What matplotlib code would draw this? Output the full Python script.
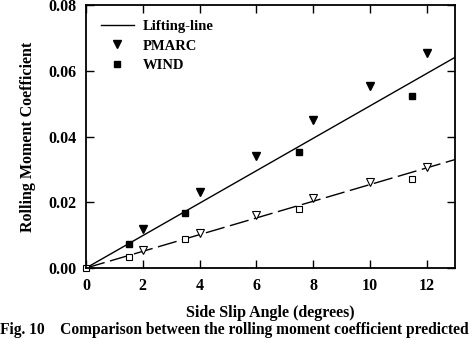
import numpy as np
import matplotlib.pyplot as plt

plt.rcParams['font.family'] = ['Liberation Serif', 'DejaVu Serif']

# lifting-line theory lines (end values at 13 deg)
line_x = [0, 13]
lifting_line = [0, 0.0641]
lifting_line2 = [0, 0.0330]

# filled symbols
pmarc_x = [2, 4, 6, 8, 10, 12]
pmarc_y = [0.0119, 0.0231, 0.0341, 0.0450, 0.0554, 0.0654]
wind_x = [1.5, 3.5, 7.5, 11.5]
wind_y = [0.0073, 0.0167, 0.0353, 0.0523]

# open symbols
pmarc2_x = [2, 4, 6, 8, 10, 12]
pmarc2_y = [0.0055, 0.0108, 0.0162, 0.0212, 0.0262, 0.0306]
wind2_x = [0, 1.5, 3.5, 7.5, 11.5]
wind2_y = [0.0, 0.0035, 0.0088, 0.0180, 0.0271]

xticks = [0, 2, 4, 6, 8, 10, 12]
yticks = [0.00, 0.02, 0.04, 0.06, 0.08]

fig = plt.figure(figsize=(4.74, 3.38), dpi=100)
ax = fig.add_axes([0.1814, 0.207, 0.7786, 0.778])

ax.plot(line_x, lifting_line, color='black', lw=1.0, label='Lifting-line')
ax.plot(line_x, lifting_line2, color='black', lw=1.0, dashes=(14, 4))
ax.plot(pmarc_x, pmarc_y, 'v', color='black', ms=5.5, ls='none', label='PMARC')
ax.plot(wind_x, wind_y, 's', color='black', ms=4.3, ls='none', label='WIND')
ax.plot(pmarc2_x, pmarc2_y, 'v', mfc='white', mec='black', mew=0.8, ms=5.5, ls='none')
ax.plot(wind2_x, wind2_y, 's', mfc='white', mec='black', mew=0.8, ms=4.8, ls='none', clip_on=False)

ax.set_xlim(0, 13)
ax.set_ylim(0, 0.08)
ax.set_xticks(xticks)
ax.set_yticks(yticks)
ax.set_yticklabels(['%.2f' % v for v in yticks])
ax.tick_params(direction='in', top=True, right=True, length=6, width=1,
               labelsize=11.5, pad=7)
for lab in ax.get_xticklabels() + ax.get_yticklabels():
    lab.set_fontweight('bold')
for s in ax.spines.values():
    s.set_linewidth(1.3)

ax.set_xlabel('Side Slip Angle (degrees)', fontsize=11.5, fontweight='bold', labelpad=8)
ax.set_ylabel('Rolling Moment Coefficient', fontsize=11.5, fontweight='bold', labelpad=9)

leg = ax.legend(loc='upper left', bbox_to_anchor=(0.04, 0.945), frameon=False,
                fontsize=10.5, handlelength=2.27, handletextpad=0.62,
                labelspacing=0.45, borderpad=0, borderaxespad=0)
for t in leg.get_texts():
    t.set_fontweight('bold')

fig.text(0.0, 0.0, 'Fig. 10    Comparison between the rolling moment coefficient predicted',
         fontsize=11.2, fontweight='bold', ha='left', va='bottom')

fig.savefig('out.png', dpi=100)
